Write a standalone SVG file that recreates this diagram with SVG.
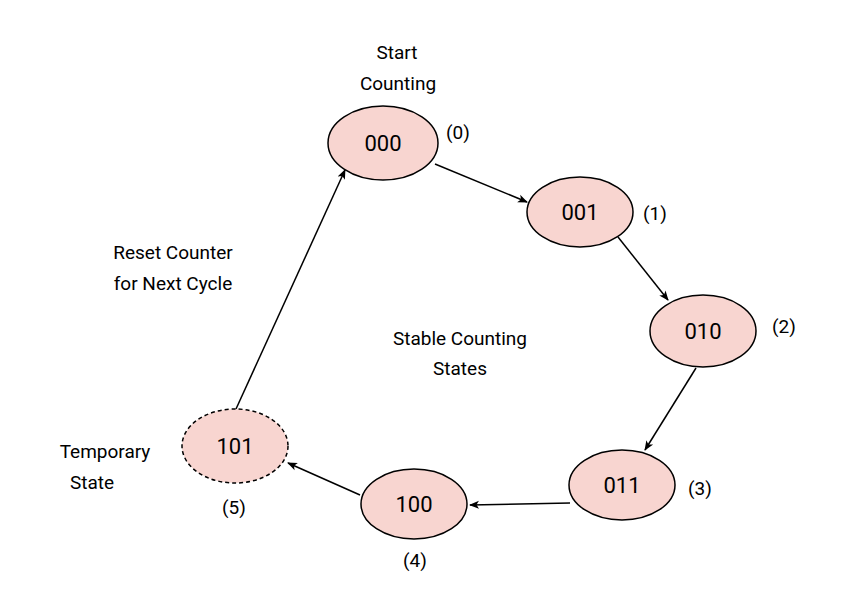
<svg xmlns="http://www.w3.org/2000/svg" width="850" height="613" viewBox="0 0 850 613">
<style>
.n{fill:#f8d5d0;stroke:#000;stroke-width:1.5}
.d{stroke-dasharray:4 3}
.t{font-family:"Roboto","Liberation Sans",sans-serif;font-size:22px;text-anchor:middle;dominant-baseline:central;fill:#000}
.l{font-family:"Roboto","Liberation Sans",sans-serif;font-size:19px;text-anchor:middle;dominant-baseline:central;fill:#000}
.e{stroke:#000;stroke-width:1.5;fill:none;marker-end:url(#a)}
</style>
<defs><marker id="a" markerWidth="10" markerHeight="10" refX="9" refY="5" orient="auto" markerUnits="userSpaceOnUse"><path d="M0,1 L10,5 L0,9 L2.5,5 Z" fill="#000"/></marker></defs>
<rect width="850" height="613" fill="#fff"/>
<g id="connectors">
<line class="e" x1="435" y1="164" x2="527" y2="202"/>
<line class="e" x1="618" y1="237" x2="668" y2="300"/>
<line class="e" x1="696" y1="368" x2="645" y2="450"/>
<line class="e" x1="570" y1="503" x2="470" y2="505"/>
<line class="e" x1="360" y1="495" x2="288" y2="463"/>
<line class="e" x1="236" y1="409" x2="345" y2="170"/>
</g>
<g id="n000"><ellipse class="n" cx="383" cy="143" rx="55" ry="37"/><text class="t" x="383" y="143">000</text></g>
<g id="n001"><ellipse class="n" cx="580" cy="212" rx="53" ry="35"/><text class="t" x="580" y="212">001</text></g>
<g id="n010"><ellipse class="n" cx="703" cy="331" rx="53" ry="36"/><text class="t" x="703" y="331">010</text></g>
<g id="n011"><ellipse class="n" cx="622" cy="485" rx="53" ry="35"/><text class="t" x="622" y="485">011</text></g>
<g id="n100"><ellipse class="n" cx="414" cy="504" rx="53" ry="35"/><text class="t" x="414" y="504">100</text></g>
<g id="n101"><ellipse class="n d" cx="235" cy="446" rx="53" ry="37"/><text class="t" x="235" y="446">101</text></g>
<g id="labels">
<text class="l" x="397" y="52">Start</text><text class="l" x="398" y="83">Counting</text>
<text class="l" x="458" y="132">(0)</text>
<text class="l" x="655" y="213">(1)</text>
<text class="l" x="784" y="326">(2)</text>
<text class="l" x="700" y="488">(3)</text>
<text class="l" x="415" y="560">(4)</text>
<text class="l" x="234" y="507">(5)</text>
<text class="l" x="173" y="252">Reset Counter</text><text class="l" x="173" y="283">for Next Cycle</text>
<text class="l" x="460" y="338">Stable Counting</text><text class="l" x="460" y="368">States</text>
<text class="l" x="105" y="451">Temporary</text><text class="l" x="92" y="482">State</text>
</g>
</svg>
